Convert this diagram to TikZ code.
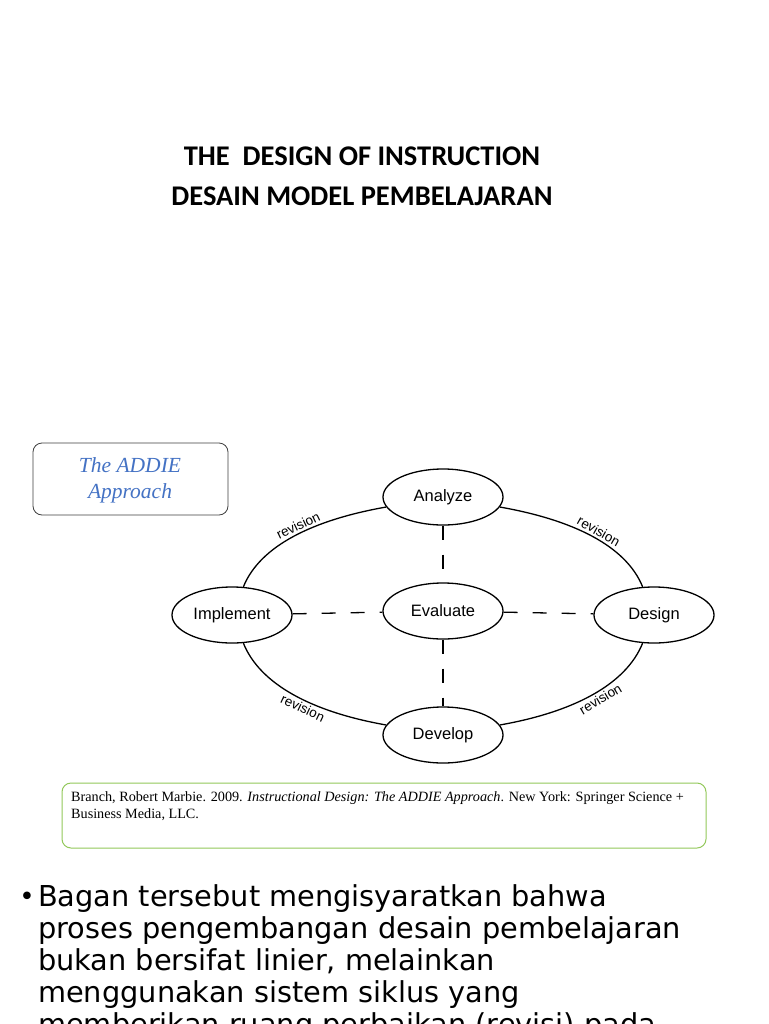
\documentclass[tikz,border=0pt]{standalone}
\usepackage{fontspec}
\setmainfont{Liberation Serif}
\newfontfamily\titlefont{Carlito}
\newfontfamily\diagfont{Liberation Sans}
\newfontfamily\bodyfont{DejaVu Sans}
\usetikzlibrary{shapes.geometric}
\definecolor{addieblue}{HTML}{4472C4}
\definecolor{refgreen}{HTML}{92C85A}
\tikzset{
  phase/.style={ellipse,draw,line width=1.3pt,fill=white,minimum width=120pt,minimum height=56pt,inner sep=0pt,font=\diagfont\fontsize{16.5}{18}\selectfont},
  revarc/.style={line width=1.3pt},
  revlabel/.style={sloped,font=\diagfont\fontsize{13.5}{14}\selectfont,inner sep=2pt},
  link/.style={line width=1.3pt,dash pattern=on 14pt off 15pt}
}
\begin{document}
\begin{tikzpicture}[x=1pt,y=1pt]
	  \clip (0,0) rectangle (768,-1024);
	  \fill[white] (0,0) rectangle (768,-1024);
	  % title
	  \node (t1) at (362,-156) {\titlefont\bfseries\fontsize{28.5}{32}\selectfont THE\ \ DESIGN OF INSTRUCTION};
	  \node (t2) at (362,-196) {\titlefont\bfseries\fontsize{28.5}{32}\selectfont DESAIN MODEL PEMBELAJARAN};
	  % label box
	  \draw[rounded corners=9pt,line width=0.8pt,draw=black!75] (33,-443) rectangle (228,-515);
	  \node[align=center,text=addieblue,font=\itshape\fontsize{21.5}{26}\selectfont] (addie) at (130,-480) {The ADDIE\\Approach};
	  % phases
	  \node[phase] (ana) at (443,-497) {Analyze};
	  \node[phase] (eva) at (443,-611) {Evaluate};
	  \node[phase] (imp) at (232,-615) {Implement};
	  \node[phase] (des) at (654,-615) {Design};
	  \node[phase] (dev) at (443,-735) {Develop};
	  \draw[revarc] (imp) to[out=68,in=190,out looseness=0.7,in looseness=1.15] node[revlabel,above,pos=0.55] {revision} (ana);
	  \draw[revarc] (ana) to[out=-10,in=112,out looseness=1.15,in looseness=0.7] node[revlabel,above,pos=0.52] {revision} (des);
	  \draw[revarc] (imp) to[out=-68,in=170,out looseness=0.7,in looseness=1.15] node[revlabel,below,pos=0.58] {revision} (dev);
	  \draw[revarc] (dev) to[out=10,in=-112,out looseness=1.15,in looseness=0.7] node[revlabel,below,pos=0.53] {revision} (des);
	  \draw[link] (ana) -- (eva);
	  \draw[link] (eva) -- (dev);
	  \draw[link] (imp) -- (eva);
	  \draw[link] (eva) -- (des);
	  % reference
	  \draw[rounded corners=9pt,line width=1pt,draw=refgreen] (62,-783) rectangle (706,-848);
	  \node[anchor=north west,inner sep=0pt,align=left,font=\fontsize{14.2}{17}\selectfont] (ref) at (71,-791)
	    {Branch, Robert Marbie. 2009. \textit{Instructional Design: The ADDIE Approach}. New York: Springer Science +\\Business Media, LLC.};
	  % bullet text
	  \node[font=\bodyfont\fontsize{26}{28}\selectfont] (dot) at (27,-899) {•};
	  \node[anchor=north west,inner sep=0pt,align=left,font=\bodyfont\fontsize{28.8}{32}\selectfont] (body) at (38,-884)
	    {Bagan tersebut mengisyaratkan bahwa\\proses pengembangan desain pembelajaran\\bukan bersifat linier, melainkan\\menggunakan sistem siklus yang\\memberikan ruang perbaikan (revisi) pada};
\end{tikzpicture}
\end{document}
